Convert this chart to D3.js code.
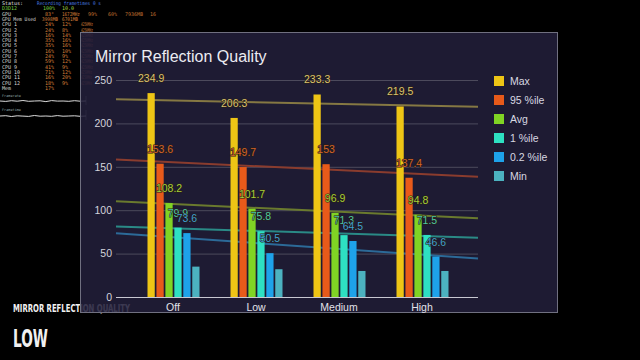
<!DOCTYPE html>
<html><head><meta charset="utf-8">
<script src="https://cdn.jsdelivr.net/npm/d3@7"></script>
<style>html,body{margin:0;padding:0;background:#000;}svg{display:block;}</style>
</head><body>
<svg id="c" width="640" height="360"></svg>
<script>
const categories = ["Off", "Low", "Medium", "High"];
const seriesNames = ["Max", "95 %ile", "Avg", "1 %ile", "0.2 %ile", "Min"];
const maxVals = [234.9, 206.3, 233.3, 219.5];
const p95Vals = [153.6, 149.7, 153, 137.4];
const avgVals = [108.2, 101.7, 96.9, 94.8];
const p1Vals = [79.9, 75.8, 71.3, 71.5];
const p02Vals = [73.6, 50.5, 64.5, 46.6];
const minVals = [35, 32, 30, 30];
const yTicks = [0, 50, 100, 150, 200, 250];
const seriesValues = [maxVals, p95Vals, avgVals, p1Vals, p02Vals, minVals];
const barColors = ["#eec515", "#e85a1a", "#80d424", "#2ee0c2", "#1ea2ea", "#4cb2c0"];
const labelColors = ["#d9c272", "#d0622e", "#a4cf3c", "#4cc8a6", "#3c9ed8", null];
const trendColors = ["#857843", "#8a3c2e", "#6a7a2e", "#2a8a86", "#2c6a98", null];

const svg = d3.select("#c");
svg.append("rect").attr("width", 640).attr("height", 360).attr("fill", "#000");

// place a text at (x,y) squeezed horizontally to a target width
function fitText(parent, str, x, y, w, attrs) {
  const t = parent.append("text").attr("x", 0).attr("y", 0).text(str);
  Object.entries(attrs || {}).forEach(([k, v]) => t.attr(k, v));
  let k = 1;
  if (w) { const nat = t.node().getComputedTextLength(); if (nat > 0) k = w / nat; }
  t.attr("transform", `translate(${x},${y}) scale(${k},1)`);
  return t;
}

// ---- monitoring overlay (behind panel) ----
const ov = svg.append("g").attr("font-family", "DejaVu Sans Mono, monospace").attr("font-size", 5);
const rows = [
  [["Status:", 2, "#e0e0e0"], ["Recording frametimes 0 s", 37, "#4a7ee0", 64]],
  [["D3D12", 2, "#7ad040"], ["100%", 43, "#7ad040"], ["10.0", 62, "#a0d040"]],
  [["GPU", 2, "#d8d8d8"], ["83°", 45, "#d8803a"], ["1672MHz", 62, "#d8803a", 18], ["99%", 88, "#c07030"], ["60%", 108, "#c07030"], ["7936MB", 125, "#c07030"], ["16", 150, "#c07030"]],
  [["GPU Mem Used", 2, "#d8d8d8", 34], ["3998MB", 42, "#d8803a", 16], ["6701MB", 62, "#d8803a", 16]],
  [["CPU 1", 2, "#d8d8d8"], ["24%", 45, "#d8803a"], ["12%", 62, "#d8803a"], ["4250MHz", 81, "#d8803a", 12]],
  [["CPU 2", 2, "#d8d8d8"], ["24%", 45, "#d8803a"], ["8%", 62, "#d8803a"], ["4250MHz", 81, "#d8803a", 12]],
  [["CPU 3", 2, "#d8d8d8"], ["16%", 45, "#d8803a"], ["14%", 62, "#d8803a"], ["4250MHz", 81, "#c06040", 12]],
  [["CPU 4", 2, "#d8d8d8"], ["35%", 45, "#d8803a"], ["16%", 62, "#d8803a"], ["4250MHz", 81, "#c06040", 12]],
  [["CPU 5", 2, "#d8d8d8"], ["35%", 45, "#d8803a"], ["16%", 62, "#d8803a"], ["4250MHz", 81, "#c06040", 12]],
  [["CPU 6", 2, "#d8d8d8"], ["16%", 45, "#d8803a"], ["10%", 62, "#d8803a"], ["4250MHz", 81, "#c06040", 12]],
  [["CPU 7", 2, "#d8d8d8"], ["24%", 45, "#d8803a"], ["9%", 62, "#d8803a"], ["4250MHz", 81, "#c06040", 12]],
  [["CPU 8", 2, "#d8d8d8"], ["59%", 45, "#d8803a"], ["12%", 62, "#d8803a"], ["4250MHz", 81, "#c06040", 12]],
  [["CPU 9", 2, "#d8d8d8"], ["41%", 45, "#d8803a"], ["9%", 62, "#d8803a"], ["4250MHz", 81, "#c06040", 12]],
  [["CPU 10", 2, "#d8d8d8"], ["71%", 45, "#d8803a"], ["12%", 62, "#d8803a"], ["4250MHz", 81, "#c06040", 11]],
  [["CPU 11", 2, "#d8d8d8"], ["16%", 45, "#d8803a"], ["20%", 62, "#d8803a"], ["4250MHz", 81, "#c06040", 11]],
  [["CPU 12", 2, "#d8d8d8"], ["18%", 45, "#d8803a"], ["9%", 62, "#d8803a"], ["4250MHz", 81, "#c06040", 11]],
  [["Mem", 2, "#d8d8d8"], ["17%", 45, "#d8803a"]]
];
rows.forEach((r, i) => {
  r.forEach(([t, x, c, w]) => {
    fitText(ov, t, x, 5 + i * 5.3, w, { fill: c });
  });
});
ov.append("text").attr("x", 2).attr("y", 97).attr("fill", "#8aa0a0").attr("font-size", 3.5).text("Framerate");
ov.append("text").attr("x", 2).attr("y", 111).attr("fill", "#8aa0a0").attr("font-size", 3.5).text("Frametime");
const noise1 = [0, 0.4, -0.3, 0.2, -0.5, 0.3, 0, -0.2, 0.6, -0.4, 0.1, 0, 0.3, -0.3, 0.2, 0];
const noise2 = [0, -0.3, 0.5, -0.2, 0.1, 0.4, -0.5, 0.2, 0, 0.3, -0.4, 0.2, 0, -0.2, 0.3, 0];
const nx = d3.scaleLinear().domain([0, noise1.length - 1]).range([0, 86]);
ov.append("path").attr("d", d3.line().x((d, i) => nx(i)).y(d => 101 + d)(noise1)).attr("stroke", "#dcdcdc").attr("fill", "none").attr("stroke-width", 1);
ov.append("path").attr("d", d3.line().x((d, i) => nx(i)).y(d => 116 + d)(noise2)).attr("stroke", "#dcdcdc").attr("fill", "none").attr("stroke-width", 1);
[[86, 96, 105], [86, 110, 120]].forEach(([x, a, b]) => {
  ov.append("line").attr("x1", x).attr("x2", x).attr("y1", a).attr("y2", b).attr("stroke", "#a0a0a0").attr("stroke-width", 0.6);
});

// bottom-left caption
const cap = svg.append("g").attr("font-family", "Liberation Sans Narrow, DejaVu Sans Condensed, sans-serif").attr("font-weight", "bold").attr("fill", "#f0f0f0");
fitText(cap, "MIRROR REFLECTION QUALITY", 13, 312, 117, { "font-size": 10.8 });
fitText(cap, "LOW", 13, 347, 35, { "font-size": 25 });

// ---- chart panel (semi-transparent over overlay) ----
svg.append("rect").attr("x", 80.5).attr("y", 32.5).attr("width", 477).attr("height", 280)
  .attr("fill", "#221f3a").attr("fill-opacity", 0.88).attr("stroke", "#707080").attr("stroke-width", 1);

const font = "Liberation Sans, Arial, Helvetica, sans-serif";
const g = svg.append("g").attr("font-family", font);

g.append("text").attr("x", 95).attr("y", 62).attr("font-size", 16).attr("fill", "#ececf2").text("Mirror Reflection Quality");

const y = d3.scaleLinear().domain([0, 250]).range([297, 80]);
const x = d3.scaleBand().domain(categories).range([131.5, 463.5]).padding(0);
const xs = d3.scaleBand().domain(seriesNames).range([-25.5, 26.5]).paddingInner(0.19).paddingOuter(0);
const xIdx = d3.scaleLinear().domain([0, categories.length - 1]).range([x(categories[0]) + x.bandwidth() / 2, x(categories[3]) + x.bandwidth() / 2]);
const plotL = 116, plotR = 478;

// gridlines
g.append("g").selectAll("line").data(yTicks.filter(t => t > 0)).join("line")
  .attr("x1", plotL).attr("x2", plotR).attr("y1", d => y(d) + 0.5).attr("y2", d => y(d) + 0.5)
  .attr("stroke", "#4c4a5c").attr("stroke-width", 1);

// y axis labels
const yAxis = d3.axisLeft(y).tickValues(yTicks).tickSize(0).tickPadding(0);
const ya = g.append("g").attr("transform", "translate(112,0)").call(yAxis);
ya.select(".domain").remove();
ya.selectAll("text").attr("font-family", font).attr("font-size", 10.5).attr("fill", "#d4d4dc");

// trend lines (linear regression) behind bars
seriesValues.forEach((vals, si) => {
  if (!trendColors[si]) return;
  const n = vals.length, mx = (n - 1) / 2, my = d3.mean(vals);
  let sxy = 0, sxx = 0;
  vals.forEach((v, i) => { sxy += (i - mx) * (v - my); sxx += (i - mx) * (i - mx); });
  const slope = sxy / sxx;
  const f = i => my + slope * (i - mx);
  const i0 = xIdx.invert(plotL), i1 = xIdx.invert(plotR);
  g.append("line").attr("x1", plotL).attr("x2", plotR).attr("y1", y(f(i0))).attr("y2", y(f(i1)))
    .attr("stroke", trendColors[si]).attr("stroke-width", 2);
});

// bars
const groups = g.append("g").selectAll("g").data(categories).join("g")
  .attr("transform", c => `translate(${x(c) + x.bandwidth() / 2},0)`);
groups.selectAll("rect").data((c, ci) => seriesNames.map((s, si) => ({ s, si, v: seriesValues[si][ci] }))).join("rect")
  .attr("x", d => xs(d.s)).attr("width", xs.bandwidth())
  .attr("y", d => y(d.v)).attr("height", d => y(0) - y(d.v))
  .attr("fill", d => barColors[d.si]);

// zero axis
g.append("line").attr("x1", plotL).attr("x2", plotR).attr("y1", 297.5).attr("y2", 297.5).attr("stroke", "#c8c8d2").attr("stroke-width", 1.2);

// value labels
groups.selectAll("text.v").data((c, ci) => seriesNames.map((s, si) => ({ s, si, v: seriesValues[si][ci] })).filter(d => labelColors[d.si])).join("text")
  .attr("class", "v")
  .attr("x", d => xs(d.s) + xs.bandwidth() / 2).attr("y", d => y(d.v) - 11)
  .attr("text-anchor", "middle").attr("font-size", 10.5)
  .attr("fill", d => labelColors[d.si])
  .attr("stroke", "#2a1e10").attr("stroke-width", 1.1).attr("paint-order", "stroke")
  .text(d => d.v);

// category labels
const xAxis = d3.axisBottom(x).tickSize(0).tickPadding(0);
const xa = g.append("g").attr("transform", "translate(0,302.5)").call(xAxis);
xa.select(".domain").remove();
xa.selectAll("text").attr("font-family", font).attr("font-size", 10.5).attr("fill", "#e2e2ea").attr("dy", "0.8em");

// legend
const lg = g.append("g").attr("transform", "translate(494,76)");
const li = lg.selectAll("g").data(seriesNames).join("g").attr("transform", (d, i) => `translate(0,${i * 19})`);
li.append("rect").attr("width", 10).attr("height", 10).attr("fill", (d, i) => barColors[i]);
li.append("text").attr("x", 16).attr("y", 9).attr("font-size", 10.5).attr("fill", "#d8d8e2").text(d => d);
</script>
</body></html>
